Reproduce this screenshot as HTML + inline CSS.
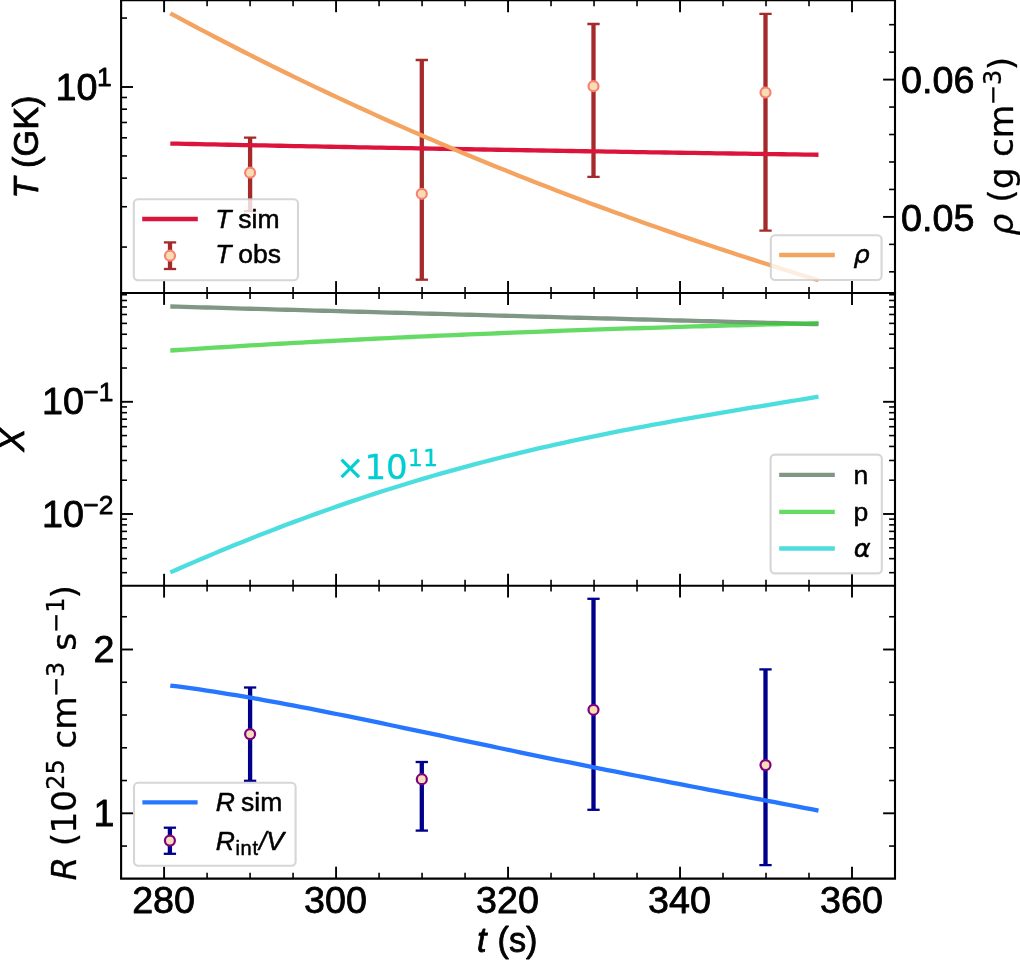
<!DOCTYPE html>
<html lang="en"><head><meta charset="utf-8"><title>plot</title>
<style>html,body{margin:0;padding:0;background:#fff;overflow:hidden}svg{display:block}</style></head>
<body>
<svg width="1020" height="960" viewBox="0 0 1020 960" style="display:block">
<style>text{stroke:#000;stroke-width:0.8px;stroke-linejoin:round} text.lg{stroke-width:0.5px} text.dj{stroke-width:0.3px} text.tq{stroke:#00ced1;stroke-width:0.3px}</style>
<rect width="1020" height="960" fill="#fff"/>
<g id="p1">
<clipPath id="c1"><rect x="121.1" y="0.3" width="773.9" height="292.7"/></clipPath>
<g clip-path="url(#c1)">
<line x1="250.10" y1="137.60" x2="250.10" y2="211.20" stroke="#a52a2a" stroke-width="4.3" />
<line x1="243.95" y1="137.60" x2="256.25" y2="137.60" stroke="#a52a2a" stroke-width="2.3" />
<line x1="243.95" y1="211.20" x2="256.25" y2="211.20" stroke="#a52a2a" stroke-width="2.3" />
<line x1="421.80" y1="60.00" x2="421.80" y2="279.70" stroke="#a52a2a" stroke-width="4.3" />
<line x1="415.65" y1="60.00" x2="427.95" y2="60.00" stroke="#a52a2a" stroke-width="2.3" />
<line x1="415.65" y1="279.70" x2="427.95" y2="279.70" stroke="#a52a2a" stroke-width="2.3" />
<line x1="593.50" y1="24.00" x2="593.50" y2="176.80" stroke="#a52a2a" stroke-width="4.3" />
<line x1="587.35" y1="24.00" x2="599.65" y2="24.00" stroke="#a52a2a" stroke-width="2.3" />
<line x1="587.35" y1="176.80" x2="599.65" y2="176.80" stroke="#a52a2a" stroke-width="2.3" />
<line x1="765.50" y1="13.80" x2="765.50" y2="230.60" stroke="#a52a2a" stroke-width="4.3" />
<line x1="759.35" y1="13.80" x2="771.65" y2="13.80" stroke="#a52a2a" stroke-width="2.3" />
<line x1="759.35" y1="230.60" x2="771.65" y2="230.60" stroke="#a52a2a" stroke-width="2.3" />
<polyline points="170.30,143.57 177.58,143.72 184.87,143.87 192.15,144.02 199.43,144.17 206.72,144.31 214.00,144.46 221.28,144.61 228.57,144.75 235.85,144.90 243.13,145.04 250.41,145.18 257.70,145.33 264.98,145.47 272.26,145.61 279.55,145.76 286.83,145.90 294.11,146.04 301.40,146.18 308.68,146.32 315.96,146.46 323.25,146.60 330.53,146.73 337.81,146.87 345.10,147.01 352.38,147.14 359.66,147.28 366.94,147.42 374.23,147.55 381.51,147.69 388.79,147.82 396.08,147.95 403.36,148.09 410.64,148.22 417.93,148.35 425.21,148.48 432.49,148.61 439.78,148.74 447.06,148.87 454.34,149.00 461.63,149.13 468.91,149.26 476.19,149.38 483.48,149.51 490.76,149.64 498.04,149.76 505.32,149.89 512.61,150.01 519.89,150.14 527.17,150.26 534.46,150.38 541.74,150.51 549.02,150.63 556.31,150.75 563.59,150.87 570.87,150.99 578.16,151.11 585.44,151.23 592.72,151.35 600.01,151.47 607.29,151.59 614.57,151.70 621.86,151.82 629.14,151.94 636.42,152.05 643.70,152.17 650.99,152.28 658.27,152.39 665.55,152.51 672.84,152.62 680.12,152.73 687.40,152.85 694.69,152.96 701.97,153.07 709.25,153.18 716.54,153.29 723.82,153.40 731.10,153.50 738.39,153.61 745.67,153.72 752.95,153.83 760.23,153.93 767.52,154.04 774.80,154.15 782.08,154.25 789.37,154.35 796.65,154.46 803.93,154.56 811.22,154.66 818.50,154.77" fill="none" stroke="#dc143c" stroke-width="4.3" stroke-opacity="1.0" stroke-linejoin="round" />
<circle cx="250.10" cy="172.70" r="5.0" fill="#f5deb3" stroke="#fa8072" stroke-width="2.2"/>
<circle cx="421.80" cy="193.80" r="5.0" fill="#f5deb3" stroke="#fa8072" stroke-width="2.2"/>
<circle cx="593.50" cy="86.20" r="5.0" fill="#f5deb3" stroke="#fa8072" stroke-width="2.2"/>
<circle cx="765.50" cy="92.50" r="5.0" fill="#f5deb3" stroke="#fa8072" stroke-width="2.2"/>
<polyline points="170.30,13.27 177.58,17.20 184.87,21.11 192.15,24.99 199.43,28.85 206.72,32.68 214.00,36.49 221.28,40.27 228.57,44.03 235.85,47.77 243.13,51.48 250.41,55.17 257.70,58.84 264.98,62.48 272.26,66.10 279.55,69.70 286.83,73.27 294.11,76.82 301.40,80.34 308.68,83.85 315.96,87.33 323.25,90.79 330.53,94.23 337.81,97.64 345.10,101.04 352.38,104.41 359.66,107.76 366.94,111.08 374.23,114.39 381.51,117.67 388.79,120.94 396.08,124.18 403.36,127.40 410.64,130.60 417.93,133.78 425.21,136.94 432.49,140.08 439.78,143.19 447.06,146.29 454.34,149.37 461.63,152.42 468.91,155.46 476.19,158.48 483.48,161.48 490.76,164.45 498.04,167.41 505.32,170.35 512.61,173.27 519.89,176.17 527.17,179.05 534.46,181.92 541.74,184.76 549.02,187.59 556.31,190.39 563.59,193.18 570.87,195.95 578.16,198.70 585.44,201.44 592.72,204.16 600.01,206.86 607.29,209.54 614.57,212.20 621.86,214.85 629.14,217.48 636.42,220.09 643.70,222.68 650.99,225.26 658.27,227.82 665.55,230.37 672.84,232.90 680.12,235.41 687.40,237.90 694.69,240.38 701.97,242.85 709.25,245.30 716.54,247.73 723.82,250.14 731.10,252.55 738.39,254.93 745.67,257.30 752.95,259.66 760.23,262.00 767.52,264.32 774.80,266.63 782.08,268.93 789.37,271.21 796.65,273.48 803.93,275.73 811.22,277.97 818.50,280.19" fill="none" stroke="#f4a460" stroke-width="4.3" stroke-opacity="1.0" stroke-linejoin="round" />
</g></g>
<g id="p2">
<polyline points="170.30,306.49 177.58,306.70 184.87,306.90 192.15,307.10 199.43,307.31 206.72,307.51 214.00,307.71 221.28,307.92 228.57,308.12 235.85,308.32 243.13,308.53 250.41,308.73 257.70,308.93 264.98,309.14 272.26,309.34 279.55,309.54 286.83,309.74 294.11,309.94 301.40,310.15 308.68,310.35 315.96,310.55 323.25,310.75 330.53,310.95 337.81,311.15 345.10,311.36 352.38,311.56 359.66,311.76 366.94,311.96 374.23,312.16 381.51,312.36 388.79,312.56 396.08,312.76 403.36,312.96 410.64,313.16 417.93,313.36 425.21,313.56 432.49,313.76 439.78,313.96 447.06,314.16 454.34,314.36 461.63,314.56 468.91,314.76 476.19,314.96 483.48,315.16 490.76,315.36 498.04,315.55 505.32,315.75 512.61,315.95 519.89,316.15 527.17,316.35 534.46,316.55 541.74,316.74 549.02,316.94 556.31,317.14 563.59,317.34 570.87,317.54 578.16,317.73 585.44,317.93 592.72,318.13 600.01,318.32 607.29,318.52 614.57,318.72 621.86,318.91 629.14,319.11 636.42,319.31 643.70,319.50 650.99,319.70 658.27,319.90 665.55,320.09 672.84,320.29 680.12,320.48 687.40,320.68 694.69,320.87 701.97,321.07 709.25,321.26 716.54,321.46 723.82,321.65 731.10,321.85 738.39,322.04 745.67,322.24 752.95,322.43 760.23,322.63 767.52,322.82 774.80,323.02 782.08,323.21 789.37,323.40 796.65,323.60 803.93,323.79 811.22,323.98 818.50,324.18" fill="none" stroke="#5f7d65" stroke-width="4.3" stroke-opacity="0.8" stroke-linejoin="round" />
<polyline points="170.30,350.50 177.58,350.02 184.87,349.54 192.15,349.07 199.43,348.60 206.72,348.14 214.00,347.68 221.28,347.23 228.57,346.78 235.85,346.34 243.13,345.90 250.41,345.47 257.70,345.04 264.98,344.61 272.26,344.19 279.55,343.77 286.83,343.36 294.11,342.96 301.40,342.55 308.68,342.15 315.96,341.76 323.25,341.37 330.53,340.99 337.81,340.61 345.10,340.23 352.38,339.86 359.66,339.49 366.94,339.12 374.23,338.76 381.51,338.41 388.79,338.05 396.08,337.71 403.36,337.36 410.64,337.02 417.93,336.69 425.21,336.35 432.49,336.02 439.78,335.70 447.06,335.38 454.34,335.06 461.63,334.75 468.91,334.44 476.19,334.13 483.48,333.83 490.76,333.53 498.04,333.23 505.32,332.94 512.61,332.65 519.89,332.37 527.17,332.08 534.46,331.81 541.74,331.53 549.02,331.26 556.31,330.99 563.59,330.72 570.87,330.46 578.16,330.20 585.44,329.95 592.72,329.69 600.01,329.44 607.29,329.20 614.57,328.95 621.86,328.71 629.14,328.47 636.42,328.24 643.70,328.01 650.99,327.78 658.27,327.55 665.55,327.33 672.84,327.10 680.12,326.89 687.40,326.67 694.69,326.46 701.97,326.25 709.25,326.04 716.54,325.83 723.82,325.63 731.10,325.43 738.39,325.23 745.67,325.03 752.95,324.84 760.23,324.65 767.52,324.46 774.80,324.27 782.08,324.09 789.37,323.91 796.65,323.73 803.93,323.55 811.22,323.37 818.50,323.20" fill="none" stroke="#32cd32" stroke-width="4.3" stroke-opacity="0.75" stroke-linejoin="round" />
<polyline points="170.30,572.39 177.58,569.19 184.87,566.02 192.15,562.88 199.43,559.76 206.72,556.67 214.00,553.61 221.28,550.58 228.57,547.57 235.85,544.60 243.13,541.65 250.41,538.73 257.70,535.85 264.98,532.99 272.26,530.16 279.55,527.37 286.83,524.61 294.11,521.87 301.40,519.17 308.68,516.50 315.96,513.86 323.25,511.25 330.53,508.68 337.81,506.14 345.10,503.63 352.38,501.15 359.66,498.70 366.94,496.29 374.23,493.91 381.51,491.56 388.79,489.24 396.08,486.95 403.36,484.70 410.64,482.48 417.93,480.29 425.21,478.13 432.49,476.00 439.78,473.91 447.06,471.84 454.34,469.81 461.63,467.81 468.91,465.83 476.19,463.89 483.48,461.98 490.76,460.10 498.04,458.24 505.32,456.41 512.61,454.62 519.89,452.85 527.17,451.11 534.46,449.39 541.74,447.70 549.02,446.04 556.31,444.40 563.59,442.79 570.87,441.20 578.16,439.64 585.44,438.10 592.72,436.58 600.01,435.09 607.29,433.61 614.57,432.16 621.86,430.73 629.14,429.31 636.42,427.92 643.70,426.54 650.99,425.18 658.27,423.84 665.55,422.51 672.84,421.20 680.12,419.90 687.40,418.62 694.69,417.34 701.97,416.08 709.25,414.83 716.54,413.59 723.82,412.35 731.10,411.13 738.39,409.90 745.67,408.69 752.95,407.48 760.23,406.27 767.52,405.07 774.80,403.86 782.08,402.66 789.37,401.46 796.65,400.25 803.93,399.04 811.22,397.82 818.50,396.60" fill="none" stroke="#00ced1" stroke-width="4.3" stroke-opacity="0.7" stroke-linejoin="round" />
<text x="336" y="478.6" font-family='"DejaVu Sans", "Liberation Sans", sans-serif' font-size="34" fill="#00ced1" class="tq">×10<tspan dy="-12.6" font-size="23.8">11</tspan></text>
</g>
<g id="p3">
<line x1="250.10" y1="687.50" x2="250.10" y2="780.80" stroke="#00008b" stroke-width="4.3" />
<line x1="243.95" y1="687.50" x2="256.25" y2="687.50" stroke="#00008b" stroke-width="2.3" />
<line x1="243.95" y1="780.80" x2="256.25" y2="780.80" stroke="#00008b" stroke-width="2.3" />
<line x1="421.80" y1="762.00" x2="421.80" y2="830.60" stroke="#00008b" stroke-width="4.3" />
<line x1="415.65" y1="762.00" x2="427.95" y2="762.00" stroke="#00008b" stroke-width="2.3" />
<line x1="415.65" y1="830.60" x2="427.95" y2="830.60" stroke="#00008b" stroke-width="2.3" />
<line x1="593.50" y1="598.80" x2="593.50" y2="809.80" stroke="#00008b" stroke-width="4.3" />
<line x1="587.35" y1="598.80" x2="599.65" y2="598.80" stroke="#00008b" stroke-width="2.3" />
<line x1="587.35" y1="809.80" x2="599.65" y2="809.80" stroke="#00008b" stroke-width="2.3" />
<line x1="765.50" y1="669.40" x2="765.50" y2="865.10" stroke="#00008b" stroke-width="4.3" />
<line x1="759.35" y1="669.40" x2="771.65" y2="669.40" stroke="#00008b" stroke-width="2.3" />
<line x1="759.35" y1="865.10" x2="771.65" y2="865.10" stroke="#00008b" stroke-width="2.3" />
<polyline points="170.30,685.51 177.58,686.45 184.87,687.43 192.15,688.44 199.43,689.49 206.72,690.57 214.00,691.69 221.28,692.83 228.57,694.01 235.85,695.21 243.13,696.44 250.41,697.69 257.70,698.97 264.98,700.27 272.26,701.59 279.55,702.93 286.83,704.29 294.11,705.67 301.40,707.07 308.68,708.48 315.96,709.90 323.25,711.34 330.53,712.80 337.81,714.26 345.10,715.73 352.38,717.22 359.66,718.71 366.94,720.21 374.23,721.72 381.51,723.23 388.79,724.75 396.08,726.27 403.36,727.80 410.64,729.33 417.93,730.86 425.21,732.40 432.49,733.94 439.78,735.47 447.06,737.01 454.34,738.55 461.63,740.08 468.91,741.62 476.19,743.15 483.48,744.68 490.76,746.20 498.04,747.73 505.32,749.25 512.61,750.76 519.89,752.28 527.17,753.78 534.46,755.29 541.74,756.79 549.02,758.28 556.31,759.77 563.59,761.25 570.87,762.72 578.16,764.20 585.44,765.66 592.72,767.12 600.01,768.57 607.29,770.02 614.57,771.47 621.86,772.90 629.14,774.33 636.42,775.76 643.70,777.18 650.99,778.60 658.27,780.01 665.55,781.41 672.84,782.82 680.12,784.22 687.40,785.61 694.69,787.00 701.97,788.39 709.25,789.78 716.54,791.16 723.82,792.54 731.10,793.92 738.39,795.30 745.67,796.69 752.95,798.07 760.23,799.45 767.52,800.83 774.80,802.22 782.08,803.61 789.37,805.00 796.65,806.40 803.93,807.80 811.22,809.21 818.50,810.62" fill="none" stroke="#2676ff" stroke-width="4.3" stroke-opacity="1.0" stroke-linejoin="round" />
<circle cx="250.10" cy="734.10" r="5.0" fill="#f5deb3" stroke="#800080" stroke-width="2.2"/>
<circle cx="421.80" cy="779.20" r="5.0" fill="#f5deb3" stroke="#800080" stroke-width="2.2"/>
<circle cx="593.50" cy="709.80" r="5.0" fill="#f5deb3" stroke="#800080" stroke-width="2.2"/>
<circle cx="765.50" cy="765.10" r="5.0" fill="#f5deb3" stroke="#800080" stroke-width="2.2"/>
</g>
<g id="axes" stroke-linecap="butt">
<line x1="164.09" y1="0.30" x2="164.09" y2="12.20" stroke="#000" stroke-width="1.9" />
<line x1="207.09" y1="0.30" x2="207.09" y2="6.20" stroke="#000" stroke-width="1.6" />
<line x1="250.08" y1="0.30" x2="250.08" y2="6.20" stroke="#000" stroke-width="1.6" />
<line x1="293.08" y1="0.30" x2="293.08" y2="6.20" stroke="#000" stroke-width="1.6" />
<line x1="336.07" y1="0.30" x2="336.07" y2="12.20" stroke="#000" stroke-width="1.9" />
<line x1="379.07" y1="0.30" x2="379.07" y2="6.20" stroke="#000" stroke-width="1.6" />
<line x1="422.06" y1="0.30" x2="422.06" y2="6.20" stroke="#000" stroke-width="1.6" />
<line x1="465.06" y1="0.30" x2="465.06" y2="6.20" stroke="#000" stroke-width="1.6" />
<line x1="508.05" y1="0.30" x2="508.05" y2="12.20" stroke="#000" stroke-width="1.9" />
<line x1="551.04" y1="0.30" x2="551.04" y2="6.20" stroke="#000" stroke-width="1.6" />
<line x1="594.04" y1="0.30" x2="594.04" y2="6.20" stroke="#000" stroke-width="1.6" />
<line x1="637.03" y1="0.30" x2="637.03" y2="6.20" stroke="#000" stroke-width="1.6" />
<line x1="680.03" y1="0.30" x2="680.03" y2="12.20" stroke="#000" stroke-width="1.9" />
<line x1="723.02" y1="0.30" x2="723.02" y2="6.20" stroke="#000" stroke-width="1.6" />
<line x1="766.02" y1="0.30" x2="766.02" y2="6.20" stroke="#000" stroke-width="1.6" />
<line x1="809.01" y1="0.30" x2="809.01" y2="6.20" stroke="#000" stroke-width="1.6" />
<line x1="852.01" y1="0.30" x2="852.01" y2="12.20" stroke="#000" stroke-width="1.9" />
<line x1="164.09" y1="281.10" x2="164.09" y2="304.90" stroke="#000" stroke-width="1.9" />
<line x1="207.09" y1="287.10" x2="207.09" y2="298.90" stroke="#000" stroke-width="1.6" />
<line x1="250.08" y1="287.10" x2="250.08" y2="298.90" stroke="#000" stroke-width="1.6" />
<line x1="293.08" y1="287.10" x2="293.08" y2="298.90" stroke="#000" stroke-width="1.6" />
<line x1="336.07" y1="281.10" x2="336.07" y2="304.90" stroke="#000" stroke-width="1.9" />
<line x1="379.07" y1="287.10" x2="379.07" y2="298.90" stroke="#000" stroke-width="1.6" />
<line x1="422.06" y1="287.10" x2="422.06" y2="298.90" stroke="#000" stroke-width="1.6" />
<line x1="465.06" y1="287.10" x2="465.06" y2="298.90" stroke="#000" stroke-width="1.6" />
<line x1="508.05" y1="281.10" x2="508.05" y2="304.90" stroke="#000" stroke-width="1.9" />
<line x1="551.04" y1="287.10" x2="551.04" y2="298.90" stroke="#000" stroke-width="1.6" />
<line x1="594.04" y1="287.10" x2="594.04" y2="298.90" stroke="#000" stroke-width="1.6" />
<line x1="637.03" y1="287.10" x2="637.03" y2="298.90" stroke="#000" stroke-width="1.6" />
<line x1="680.03" y1="281.10" x2="680.03" y2="304.90" stroke="#000" stroke-width="1.9" />
<line x1="723.02" y1="287.10" x2="723.02" y2="298.90" stroke="#000" stroke-width="1.6" />
<line x1="766.02" y1="287.10" x2="766.02" y2="298.90" stroke="#000" stroke-width="1.6" />
<line x1="809.01" y1="287.10" x2="809.01" y2="298.90" stroke="#000" stroke-width="1.6" />
<line x1="852.01" y1="281.10" x2="852.01" y2="304.90" stroke="#000" stroke-width="1.9" />
<line x1="164.09" y1="573.80" x2="164.09" y2="597.60" stroke="#000" stroke-width="1.9" />
<line x1="207.09" y1="579.80" x2="207.09" y2="591.60" stroke="#000" stroke-width="1.6" />
<line x1="250.08" y1="579.80" x2="250.08" y2="591.60" stroke="#000" stroke-width="1.6" />
<line x1="293.08" y1="579.80" x2="293.08" y2="591.60" stroke="#000" stroke-width="1.6" />
<line x1="336.07" y1="573.80" x2="336.07" y2="597.60" stroke="#000" stroke-width="1.9" />
<line x1="379.07" y1="579.80" x2="379.07" y2="591.60" stroke="#000" stroke-width="1.6" />
<line x1="422.06" y1="579.80" x2="422.06" y2="591.60" stroke="#000" stroke-width="1.6" />
<line x1="465.06" y1="579.80" x2="465.06" y2="591.60" stroke="#000" stroke-width="1.6" />
<line x1="508.05" y1="573.80" x2="508.05" y2="597.60" stroke="#000" stroke-width="1.9" />
<line x1="551.04" y1="579.80" x2="551.04" y2="591.60" stroke="#000" stroke-width="1.6" />
<line x1="594.04" y1="579.80" x2="594.04" y2="591.60" stroke="#000" stroke-width="1.6" />
<line x1="637.03" y1="579.80" x2="637.03" y2="591.60" stroke="#000" stroke-width="1.6" />
<line x1="680.03" y1="573.80" x2="680.03" y2="597.60" stroke="#000" stroke-width="1.9" />
<line x1="723.02" y1="579.80" x2="723.02" y2="591.60" stroke="#000" stroke-width="1.6" />
<line x1="766.02" y1="579.80" x2="766.02" y2="591.60" stroke="#000" stroke-width="1.6" />
<line x1="809.01" y1="579.80" x2="809.01" y2="591.60" stroke="#000" stroke-width="1.6" />
<line x1="852.01" y1="573.80" x2="852.01" y2="597.60" stroke="#000" stroke-width="1.9" />
<line x1="164.09" y1="866.70" x2="164.09" y2="878.60" stroke="#000" stroke-width="1.9" />
<line x1="207.09" y1="872.70" x2="207.09" y2="878.60" stroke="#000" stroke-width="1.6" />
<line x1="250.08" y1="872.70" x2="250.08" y2="878.60" stroke="#000" stroke-width="1.6" />
<line x1="293.08" y1="872.70" x2="293.08" y2="878.60" stroke="#000" stroke-width="1.6" />
<line x1="336.07" y1="866.70" x2="336.07" y2="878.60" stroke="#000" stroke-width="1.9" />
<line x1="379.07" y1="872.70" x2="379.07" y2="878.60" stroke="#000" stroke-width="1.6" />
<line x1="422.06" y1="872.70" x2="422.06" y2="878.60" stroke="#000" stroke-width="1.6" />
<line x1="465.06" y1="872.70" x2="465.06" y2="878.60" stroke="#000" stroke-width="1.6" />
<line x1="508.05" y1="866.70" x2="508.05" y2="878.60" stroke="#000" stroke-width="1.9" />
<line x1="551.04" y1="872.70" x2="551.04" y2="878.60" stroke="#000" stroke-width="1.6" />
<line x1="594.04" y1="872.70" x2="594.04" y2="878.60" stroke="#000" stroke-width="1.6" />
<line x1="637.03" y1="872.70" x2="637.03" y2="878.60" stroke="#000" stroke-width="1.6" />
<line x1="680.03" y1="866.70" x2="680.03" y2="878.60" stroke="#000" stroke-width="1.9" />
<line x1="723.02" y1="872.70" x2="723.02" y2="878.60" stroke="#000" stroke-width="1.6" />
<line x1="766.02" y1="872.70" x2="766.02" y2="878.60" stroke="#000" stroke-width="1.6" />
<line x1="809.01" y1="872.70" x2="809.01" y2="878.60" stroke="#000" stroke-width="1.6" />
<line x1="852.01" y1="866.70" x2="852.01" y2="878.60" stroke="#000" stroke-width="1.9" />
<line x1="121.10" y1="247.06" x2="127.00" y2="247.06" stroke="#000" stroke-width="1.6" />
<line x1="121.10" y1="206.74" x2="127.00" y2="206.74" stroke="#000" stroke-width="1.6" />
<line x1="121.10" y1="178.13" x2="127.00" y2="178.13" stroke="#000" stroke-width="1.6" />
<line x1="121.10" y1="155.94" x2="127.00" y2="155.94" stroke="#000" stroke-width="1.6" />
<line x1="121.10" y1="137.80" x2="127.00" y2="137.80" stroke="#000" stroke-width="1.6" />
<line x1="121.10" y1="122.47" x2="127.00" y2="122.47" stroke="#000" stroke-width="1.6" />
<line x1="121.10" y1="109.19" x2="127.00" y2="109.19" stroke="#000" stroke-width="1.6" />
<line x1="121.10" y1="97.48" x2="127.00" y2="97.48" stroke="#000" stroke-width="1.6" />
<line x1="121.10" y1="87.00" x2="133.00" y2="87.00" stroke="#000" stroke-width="1.9" />
<line x1="121.10" y1="18.06" x2="127.00" y2="18.06" stroke="#000" stroke-width="1.6" />
<line x1="889.10" y1="24.68" x2="895.00" y2="24.68" stroke="#000" stroke-width="1.6" />
<line x1="889.10" y1="52.14" x2="895.00" y2="52.14" stroke="#000" stroke-width="1.6" />
<line x1="883.10" y1="79.60" x2="895.00" y2="79.60" stroke="#000" stroke-width="1.9" />
<line x1="889.10" y1="107.06" x2="895.00" y2="107.06" stroke="#000" stroke-width="1.6" />
<line x1="889.10" y1="134.52" x2="895.00" y2="134.52" stroke="#000" stroke-width="1.6" />
<line x1="889.10" y1="161.98" x2="895.00" y2="161.98" stroke="#000" stroke-width="1.6" />
<line x1="889.10" y1="189.44" x2="895.00" y2="189.44" stroke="#000" stroke-width="1.6" />
<line x1="883.10" y1="216.90" x2="895.00" y2="216.90" stroke="#000" stroke-width="1.9" />
<line x1="889.10" y1="244.36" x2="895.00" y2="244.36" stroke="#000" stroke-width="1.6" />
<line x1="889.10" y1="271.82" x2="895.00" y2="271.82" stroke="#000" stroke-width="1.6" />
<line x1="121.10" y1="401.80" x2="133.00" y2="401.80" stroke="#000" stroke-width="1.9" />
<line x1="883.10" y1="401.80" x2="895.00" y2="401.80" stroke="#000" stroke-width="1.9" />
<line x1="121.10" y1="368.02" x2="127.00" y2="368.02" stroke="#000" stroke-width="1.6" />
<line x1="889.10" y1="368.02" x2="895.00" y2="368.02" stroke="#000" stroke-width="1.6" />
<line x1="121.10" y1="348.27" x2="127.00" y2="348.27" stroke="#000" stroke-width="1.6" />
<line x1="889.10" y1="348.27" x2="895.00" y2="348.27" stroke="#000" stroke-width="1.6" />
<line x1="121.10" y1="334.25" x2="127.00" y2="334.25" stroke="#000" stroke-width="1.6" />
<line x1="889.10" y1="334.25" x2="895.00" y2="334.25" stroke="#000" stroke-width="1.6" />
<line x1="121.10" y1="323.38" x2="127.00" y2="323.38" stroke="#000" stroke-width="1.6" />
<line x1="889.10" y1="323.38" x2="895.00" y2="323.38" stroke="#000" stroke-width="1.6" />
<line x1="121.10" y1="314.49" x2="127.00" y2="314.49" stroke="#000" stroke-width="1.6" />
<line x1="889.10" y1="314.49" x2="895.00" y2="314.49" stroke="#000" stroke-width="1.6" />
<line x1="121.10" y1="306.98" x2="127.00" y2="306.98" stroke="#000" stroke-width="1.6" />
<line x1="889.10" y1="306.98" x2="895.00" y2="306.98" stroke="#000" stroke-width="1.6" />
<line x1="121.10" y1="300.47" x2="127.00" y2="300.47" stroke="#000" stroke-width="1.6" />
<line x1="889.10" y1="300.47" x2="895.00" y2="300.47" stroke="#000" stroke-width="1.6" />
<line x1="121.10" y1="294.73" x2="127.00" y2="294.73" stroke="#000" stroke-width="1.6" />
<line x1="889.10" y1="294.73" x2="895.00" y2="294.73" stroke="#000" stroke-width="1.6" />
<line x1="121.10" y1="514.00" x2="133.00" y2="514.00" stroke="#000" stroke-width="1.9" />
<line x1="883.10" y1="514.00" x2="895.00" y2="514.00" stroke="#000" stroke-width="1.9" />
<line x1="121.10" y1="480.22" x2="127.00" y2="480.22" stroke="#000" stroke-width="1.6" />
<line x1="889.10" y1="480.22" x2="895.00" y2="480.22" stroke="#000" stroke-width="1.6" />
<line x1="121.10" y1="460.47" x2="127.00" y2="460.47" stroke="#000" stroke-width="1.6" />
<line x1="889.10" y1="460.47" x2="895.00" y2="460.47" stroke="#000" stroke-width="1.6" />
<line x1="121.10" y1="446.45" x2="127.00" y2="446.45" stroke="#000" stroke-width="1.6" />
<line x1="889.10" y1="446.45" x2="895.00" y2="446.45" stroke="#000" stroke-width="1.6" />
<line x1="121.10" y1="435.58" x2="127.00" y2="435.58" stroke="#000" stroke-width="1.6" />
<line x1="889.10" y1="435.58" x2="895.00" y2="435.58" stroke="#000" stroke-width="1.6" />
<line x1="121.10" y1="426.69" x2="127.00" y2="426.69" stroke="#000" stroke-width="1.6" />
<line x1="889.10" y1="426.69" x2="895.00" y2="426.69" stroke="#000" stroke-width="1.6" />
<line x1="121.10" y1="419.18" x2="127.00" y2="419.18" stroke="#000" stroke-width="1.6" />
<line x1="889.10" y1="419.18" x2="895.00" y2="419.18" stroke="#000" stroke-width="1.6" />
<line x1="121.10" y1="412.67" x2="127.00" y2="412.67" stroke="#000" stroke-width="1.6" />
<line x1="889.10" y1="412.67" x2="895.00" y2="412.67" stroke="#000" stroke-width="1.6" />
<line x1="121.10" y1="406.93" x2="127.00" y2="406.93" stroke="#000" stroke-width="1.6" />
<line x1="889.10" y1="406.93" x2="895.00" y2="406.93" stroke="#000" stroke-width="1.6" />
<line x1="121.10" y1="572.67" x2="127.00" y2="572.67" stroke="#000" stroke-width="1.6" />
<line x1="889.10" y1="572.67" x2="895.00" y2="572.67" stroke="#000" stroke-width="1.6" />
<line x1="121.10" y1="558.65" x2="127.00" y2="558.65" stroke="#000" stroke-width="1.6" />
<line x1="889.10" y1="558.65" x2="895.00" y2="558.65" stroke="#000" stroke-width="1.6" />
<line x1="121.10" y1="547.78" x2="127.00" y2="547.78" stroke="#000" stroke-width="1.6" />
<line x1="889.10" y1="547.78" x2="895.00" y2="547.78" stroke="#000" stroke-width="1.6" />
<line x1="121.10" y1="538.89" x2="127.00" y2="538.89" stroke="#000" stroke-width="1.6" />
<line x1="889.10" y1="538.89" x2="895.00" y2="538.89" stroke="#000" stroke-width="1.6" />
<line x1="121.10" y1="531.38" x2="127.00" y2="531.38" stroke="#000" stroke-width="1.6" />
<line x1="889.10" y1="531.38" x2="895.00" y2="531.38" stroke="#000" stroke-width="1.6" />
<line x1="121.10" y1="524.87" x2="127.00" y2="524.87" stroke="#000" stroke-width="1.6" />
<line x1="889.10" y1="524.87" x2="895.00" y2="524.87" stroke="#000" stroke-width="1.6" />
<line x1="121.10" y1="519.13" x2="127.00" y2="519.13" stroke="#000" stroke-width="1.6" />
<line x1="889.10" y1="519.13" x2="895.00" y2="519.13" stroke="#000" stroke-width="1.6" />
<line x1="121.10" y1="616.74" x2="127.00" y2="616.74" stroke="#000" stroke-width="1.6" />
<line x1="889.10" y1="616.74" x2="895.00" y2="616.74" stroke="#000" stroke-width="1.6" />
<line x1="121.10" y1="649.50" x2="133.00" y2="649.50" stroke="#000" stroke-width="1.9" />
<line x1="883.10" y1="649.50" x2="895.00" y2="649.50" stroke="#000" stroke-width="1.9" />
<line x1="121.10" y1="682.26" x2="127.00" y2="682.26" stroke="#000" stroke-width="1.6" />
<line x1="889.10" y1="682.26" x2="895.00" y2="682.26" stroke="#000" stroke-width="1.6" />
<line x1="121.10" y1="715.02" x2="127.00" y2="715.02" stroke="#000" stroke-width="1.6" />
<line x1="889.10" y1="715.02" x2="895.00" y2="715.02" stroke="#000" stroke-width="1.6" />
<line x1="121.10" y1="747.78" x2="127.00" y2="747.78" stroke="#000" stroke-width="1.6" />
<line x1="889.10" y1="747.78" x2="895.00" y2="747.78" stroke="#000" stroke-width="1.6" />
<line x1="121.10" y1="780.54" x2="127.00" y2="780.54" stroke="#000" stroke-width="1.6" />
<line x1="889.10" y1="780.54" x2="895.00" y2="780.54" stroke="#000" stroke-width="1.6" />
<line x1="121.10" y1="813.30" x2="133.00" y2="813.30" stroke="#000" stroke-width="1.9" />
<line x1="883.10" y1="813.30" x2="895.00" y2="813.30" stroke="#000" stroke-width="1.9" />
<line x1="121.10" y1="846.06" x2="127.00" y2="846.06" stroke="#000" stroke-width="1.6" />
<line x1="889.10" y1="846.06" x2="895.00" y2="846.06" stroke="#000" stroke-width="1.6" />
<line x1="120.05" y1="0.30" x2="896.05" y2="0.30" stroke="#000" stroke-width="2.1" />
<line x1="120.05" y1="293.00" x2="896.05" y2="293.00" stroke="#000" stroke-width="2.1" />
<line x1="120.05" y1="585.70" x2="896.05" y2="585.70" stroke="#000" stroke-width="2.1" />
<line x1="120.05" y1="878.60" x2="896.05" y2="878.60" stroke="#000" stroke-width="2.1" />
<line x1="121.10" y1="0.30" x2="121.10" y2="878.60" stroke="#000" stroke-width="2.1" />
<line x1="895.00" y1="0.30" x2="895.00" y2="878.60" stroke="#000" stroke-width="2.1" />
</g>
<rect x="133.8" y="199.2" width="164.2" height="81.0" rx="4.2" ry="4.2" fill="#fff" fill-opacity="0.8" stroke="#ccc" stroke-opacity="0.8" stroke-width="2.1"/>
<line x1="142.20" y1="219.00" x2="197.80" y2="219.00" stroke="#dc143c" stroke-width="4.3" />
<line x1="170.00" y1="242.40" x2="170.00" y2="269.00" stroke="#a52a2a" stroke-width="4.3" />
<line x1="163.85" y1="242.40" x2="176.15" y2="242.40" stroke="#a52a2a" stroke-width="2.3" />
<line x1="163.85" y1="269.00" x2="176.15" y2="269.00" stroke="#a52a2a" stroke-width="2.3" />
<circle cx="170.00" cy="255.70" r="5.0" fill="#f5deb3" stroke="#fa8072" stroke-width="2.2"/>
<text x="215.3" y="227.6" font-family='"Liberation Sans", sans-serif' font-size="26.5" fill="#000" class="lg" word-spacing="-0.5"><tspan font-style="italic">T</tspan> sim</text>
<text x="215.3" y="263.2" font-family='"Liberation Sans", sans-serif' font-size="26.5" fill="#000" class="lg" word-spacing="-0.5"><tspan font-style="italic">T</tspan> obs</text>
<rect x="770.8" y="235.2" width="110.80000000000007" height="44.80000000000001" rx="4.2" ry="4.2" fill="#fff" fill-opacity="0.8" stroke="#ccc" stroke-opacity="0.8" stroke-width="2.1"/>
<line x1="779.20" y1="255.00" x2="834.80" y2="255.00" stroke="#f4a460" stroke-width="4.3" />
<text x="853.4" y="263.0" font-family='"DejaVu Sans", "Liberation Sans", sans-serif' font-style="italic" font-size="25.6" fill="#000" class="lg">ρ</text>
<rect x="770.6" y="454.6" width="111.19999999999993" height="118.79999999999995" rx="4.2" ry="4.2" fill="#fff" fill-opacity="0.8" stroke="#ccc" stroke-opacity="0.8" stroke-width="2.1"/>
<line x1="779.20" y1="474.80" x2="834.80" y2="474.80" stroke="#5f7d65" stroke-width="4.3" stroke-opacity="0.8"/>
<line x1="779.20" y1="511.80" x2="834.80" y2="511.80" stroke="#32cd32" stroke-width="4.3" stroke-opacity="0.75"/>
<line x1="779.20" y1="548.50" x2="834.80" y2="548.50" stroke="#00ced1" stroke-width="4.3" stroke-opacity="0.7"/>
<text x="853.6" y="484" font-family='"Liberation Sans", sans-serif' font-size="26.5" fill="#000" class="lg">n</text>
<text x="853.6" y="521" font-family='"Liberation Sans", sans-serif' font-size="26.5" fill="#000" class="lg">p</text>
<text x="853.8" y="557.3" font-family='"DejaVu Sans", "Liberation Sans", sans-serif' font-style="italic" font-size="25.6" fill="#000" class="lg">α</text>
<rect x="134.0" y="782.8" width="161.60000000000002" height="83.0" rx="4.2" ry="4.2" fill="#fff" fill-opacity="0.8" stroke="#ccc" stroke-opacity="0.8" stroke-width="2.1"/>
<line x1="142.40" y1="802.40" x2="197.60" y2="802.40" stroke="#2676ff" stroke-width="4.3" />
<line x1="169.90" y1="827.70" x2="169.90" y2="853.80" stroke="#00008b" stroke-width="4.3" />
<line x1="163.75" y1="827.70" x2="176.05" y2="827.70" stroke="#00008b" stroke-width="2.3" />
<line x1="163.75" y1="853.80" x2="176.05" y2="853.80" stroke="#00008b" stroke-width="2.3" />
<circle cx="169.90" cy="840.60" r="5.0" fill="#f5deb3" stroke="#800080" stroke-width="2.2"/>
<text x="215.8" y="810.8" font-family='"Liberation Sans", sans-serif' font-size="26.5" fill="#000" class="lg" word-spacing="-1.3"><tspan font-style="italic">R</tspan> sim</text>
<text x="215.8" y="849.8" font-family='"Liberation Sans", sans-serif' font-size="26.5" fill="#000" class="lg" word-spacing="-1.3"><tspan font-style="italic">R</tspan><tspan dy="5.6" dx="0.5" font-size="20" letter-spacing="0.7">int</tspan><tspan dy="-5.6" dx="0.3" font-style="italic">/V</tspan></text>
<text x="163.59" y="913.4" text-anchor="middle" font-family='"Liberation Sans", sans-serif' font-size="37.7" fill="#000" >280</text>
<text x="335.57" y="913.4" text-anchor="middle" font-family='"Liberation Sans", sans-serif' font-size="37.7" fill="#000" >300</text>
<text x="507.55" y="913.4" text-anchor="middle" font-family='"Liberation Sans", sans-serif' font-size="37.7" fill="#000" >320</text>
<text x="679.53" y="913.4" text-anchor="middle" font-family='"Liberation Sans", sans-serif' font-size="37.7" fill="#000" >340</text>
<text x="851.51" y="913.4" text-anchor="middle" font-family='"Liberation Sans", sans-serif' font-size="37.7" fill="#000" >360</text>
<text x="507.2" y="952" text-anchor="middle" font-family='"Liberation Sans", sans-serif' font-size="34.3" fill="#000" word-spacing="1.5"><tspan font-style="italic">t</tspan> (s)</text>
<text x="55.6" y="99.6" text-anchor="start" font-family='"Liberation Sans", sans-serif' font-size="37.7" fill="#000" >10<tspan dy="-13.6" dx="-0.4" font-size="26.39">1</tspan></text>
<text x="42" y="414.4" text-anchor="start" font-family='"Liberation Sans", sans-serif' font-size="37.7" fill="#000" >10<tspan dy="-13.4" dx="-0.6" font-size="26.39">−1</tspan></text>
<text x="42" y="527.0" text-anchor="start" font-family='"Liberation Sans", sans-serif' font-size="37.7" fill="#000" >10<tspan dy="-13.4" dx="-0.6" font-size="26.39">−2</tspan></text>
<text x="114.5" y="662.4" text-anchor="end" font-family='"Liberation Sans", sans-serif' font-size="37.7" fill="#000" >2</text>
<text x="114.5" y="825.7" text-anchor="end" font-family='"Liberation Sans", sans-serif' font-size="37.7" fill="#000" >1</text>
<text x="901" y="93.4" text-anchor="start" font-family='"Liberation Sans", sans-serif' font-size="37.7" fill="#000" >0.06</text>
<text x="901" y="230.7" text-anchor="start" font-family='"Liberation Sans", sans-serif' font-size="37.7" fill="#000" >0.05</text>
<text transform="translate(38,147) rotate(-90)" text-anchor="middle" font-family='"Liberation Sans", sans-serif' font-size="34.3" fill="#000"><tspan font-style="italic">T</tspan> (GK)</text>
<text transform="translate(24.4,440) rotate(-90)" text-anchor="middle" font-family='"Liberation Sans", sans-serif' font-size="34.3" font-style="italic" fill="#000">X</text>
<text transform="translate(76.2,880.5) rotate(-90)" font-family='"DejaVu Sans", "Liberation Sans", sans-serif' font-size="34.3" fill="#000" class="dj"><tspan font-style="italic">R</tspan><tspan dx="-0.5"> (</tspan><tspan dx="-0.6">10</tspan><tspan dy="-12.6" dx="0" font-size="24.0">25</tspan><tspan dy="12.6" dx="-0.3"> cm</tspan><tspan dy="-12.6" dx="-0.7" font-size="24.0">−3</tspan><tspan dy="12.6" dx="0"> s</tspan><tspan dy="-12.6" dx="0" font-size="24.0">−1</tspan><tspan dy="12.6" dx="-0.9">)</tspan></text>
<text transform="translate(1013.2,235.4) rotate(-90)" font-family='"DejaVu Sans", "Liberation Sans", sans-serif' font-size="34.3" fill="#000" class="dj"><tspan font-style="italic">ρ</tspan><tspan dx="0"> (</tspan><tspan dx="0">g</tspan><tspan dx="-0.4"> cm</tspan><tspan dy="-12.6" dx="-0.4" font-size="24.0">−3</tspan><tspan dy="12.6" dx="-0.4">)</tspan></text>
</svg>
</body></html>
